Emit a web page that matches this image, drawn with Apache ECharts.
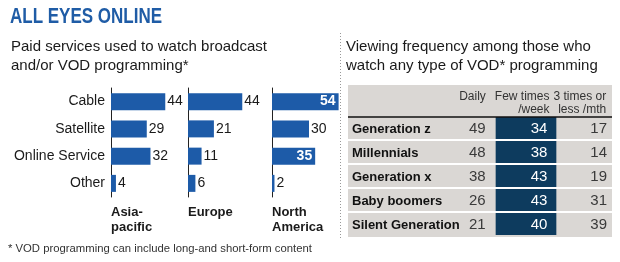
<!DOCTYPE html>
<html>
<head>
<meta charset="utf-8">
<title>All eyes online</title>
<script src="https://cdn.jsdelivr.net/npm/echarts@6/dist/echarts.min.js"></script>
<style>
  html, body { margin: 0; padding: 0; background: #fff; }
  #chart { width: 620px; height: 262px; }
</style>
</head>
<body>
<div id="chart"></div>
<script>
// paid services used, % of respondents per region
var services = ['Cable', 'Satellite', 'Online Service', 'Other'];
var regions = ['Asia-\npacific', 'Europe', 'North\nAmerica'];
var asiaPacific = [44, 29, 32, 4];
var europe = [44, 21, 11, 6];
var northAmerica = [54, 30, 35, 2];

// viewing frequency among VOD watchers
var generations = ['Generation z', 'Millennials', 'Generation x', 'Baby boomers', 'Silent Generation'];
var frequencies = ['Daily', 'Few times\n/week', '3 times or\nless /mth'];
var daily = [49, 48, 38, 26, 21];
var fewPerWeek = [34, 38, 43, 43, 40];
var fewPerMonth = [17, 14, 19, 31, 39];

var FONT = '"Liberation Sans Narrow", "Liberation Sans", Arial, sans-serif';
var BLUE = '#1d5ba8';
var NAVY = '#0d3b5e';

var regionValues = [asiaPacific, europe, northAmerica];
var barLefts = [111, 188, 272];
var colPads = [9, 6, 5];

var grids = barLefts.map(function (l) {
  return { left: l, top: 88, width: 74, height: 109 };
});
grids.push({ left: 436, top: 117, width: 176, height: 120 });

var headStyle = function (w) {
  return { width: w, align: 'right', fontSize: 12, lineHeight: 13, color: '#333', fontFamily: FONT };
};

var xAxes = barLefts.map(function (l, i) {
  return { type: 'value', gridIndex: i, min: 0, max: 60, show: false };
});
xAxes.push({
  type: 'category', gridIndex: 3, data: frequencies, position: 'top',
  axisLine: { show: false }, axisTick: { show: false },
  axisLabel: {
    interval: 0, verticalAlign: 'top', margin: 27,
    formatter: function (v, i) {
      return v.split('\n').map(function (s) { return '{c' + i + '|' + s + '}'; }).join('\n');
    },
    rich: { c0: headStyle(41), c1: headStyle(51), c2: headStyle(47) }
  }
});

var yAxes = barLefts.map(function (l, i) {
  return {
    type: 'category', gridIndex: i, data: services, inverse: true,
    axisLine: { lineStyle: { color: '#222', width: 1 } },
    axisTick: { length: 4, lineStyle: { color: '#222' } },
    axisLabel: { show: i === 0, fontSize: 14, color: '#1a1a1a', margin: 6, fontFamily: FONT }
  };
});
yAxes.push({
  type: 'category', gridIndex: 3, data: generations, inverse: true,
  axisLine: { show: false }, axisTick: { show: false },
  axisLabel: { align: 'left', margin: 84, fontSize: 13, fontWeight: 'bold', color: '#111', fontFamily: FONT }
});

var series = regionValues.map(function (vals, i) {
  return {
    type: 'bar', xAxisIndex: i, yAxisIndex: i, barWidth: 17,
    itemStyle: { color: BLUE },
    label: { show: true, position: 'right', distance: 2, fontSize: 14, color: '#1a1a1a', fontFamily: FONT },
    data: vals.map(function (v) {
      // long North America bars carry their label inside
      if (i === 2 && v >= 35) {
        return { value: v, label: { position: 'insideRight', color: '#fff', fontWeight: 'bold', distance: 3 } };
      }
      return v;
    })
  };
});

var cells = [];
generations.forEach(function (g, r) {
  [daily, fewPerWeek, fewPerMonth].forEach(function (col, c) {
    cells.push([c, r, col[r]]);
  });
});

series.push({
  type: 'custom', xAxisIndex: 3, yAxisIndex: 3, data: cells,
  renderItem: function (params, api) {
    var c = api.value(0), r = api.value(1);
    var pt = api.coord([c, r]);
    var sz = api.size([1, 1]);
    var cs = params.coordSys;
    var top = pt[1] - sz[1] / 2, bottom = pt[1] + sz[1] / 2;
    var children = [];
    if (c === 1) {
      children.push({ type: 'rect', shape: { x: pt[0] - sz[0] / 2 + 1, y: top, width: sz[0] + 2, height: sz[1] - 2 }, style: { fill: NAVY } });
    }
    if (c === 0 && r < generations.length - 1) {
      children.push({ type: 'line', shape: { x1: cs.x - 88, y1: bottom - 1, x2: cs.x + cs.width, y2: bottom - 1 }, style: { stroke: '#fff', lineWidth: 2 } });
    }
    children.push({
      type: 'text',
      style: {
        text: String(api.value(2)), x: pt[0] + sz[0] / 2 - colPads[c], y: pt[1],
        align: 'right', verticalAlign: 'middle',
        fill: c === 1 ? '#fff' : '#3a3a3a', fontSize: 15, fontFamily: FONT
      }
    });
    return { type: 'group', children: children };
  }
});

var titles = [
  { text: 'Paid services used to watch broadcast\nand/or VOD programming*', left: 11, top: 37, padding: 0,
    textStyle: { fontSize: 15, lineHeight: 19, fontWeight: 'normal', color: '#1a1a1a', fontFamily: FONT } },
  { text: 'Viewing frequency among those who\nwatch any type of VOD* programming', left: 346, top: 37, padding: 0,
    textStyle: { fontSize: 15, lineHeight: 19, fontWeight: 'normal', color: '#1a1a1a', fontFamily: FONT } },
  { text: '* VOD programming can include long-and short-form content', left: 8, top: 243, padding: 0,
    textStyle: { fontSize: 11.3, fontWeight: 'normal', color: '#333', fontFamily: FONT } }
];
regions.forEach(function (name, i) {
  titles.push({ text: name, left: barLefts[i], top: 205, padding: 0,
    textStyle: { fontSize: 13, lineHeight: 15, fontWeight: 'bold', color: '#1a1a1a', fontFamily: FONT } });
});

var chart = echarts.init(document.getElementById('chart'));
chart.setOption({
  animation: false,
  backgroundColor: '#fff',
  title: titles,
  grid: grids,
  xAxis: xAxes,
  yAxis: yAxes,
  series: series,
  graphic: [
    // headline, stretched upward to mimic the condensed display face
    { type: 'text', x: 10, y: 5, scaleY: 1.35, silent: true,
      style: { text: 'ALL EYES ONLINE', fontSize: 17, fontWeight: 'bold', fill: '#1f5ca6', fontFamily: FONT } },
    { type: 'rect', z: -10, silent: true, shape: { x: 348, y: 85, width: 264, height: 152 }, style: { fill: '#dad7d4' } },
    { type: 'line', z: 10, silent: true, shape: { x1: 348, y1: 117, x2: 612, y2: 117 }, style: { stroke: '#111', lineWidth: 1.5 } },
    { type: 'line', silent: true, shape: { x1: 340.5, y1: 33, x2: 340.5, y2: 240 }, style: { stroke: '#999', lineWidth: 1, lineDash: [1, 2] } }
  ]
});
</script>
</body>
</html>
